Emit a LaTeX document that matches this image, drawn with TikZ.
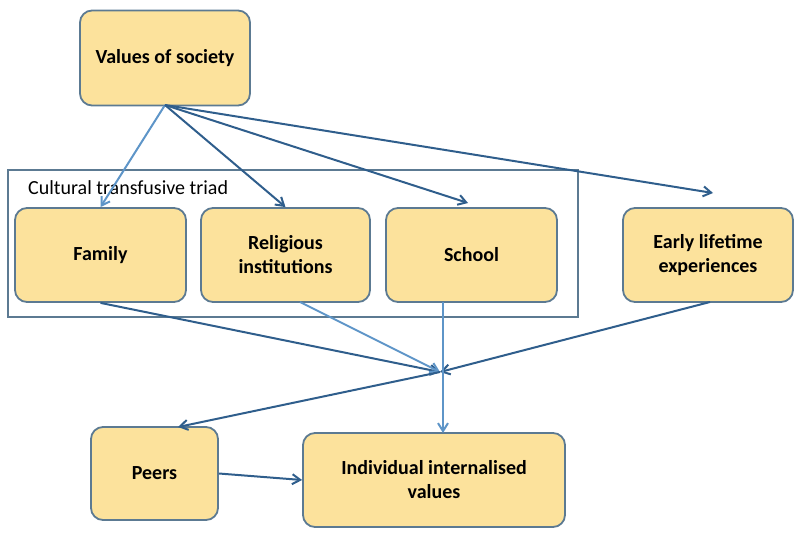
\documentclass[tikz,border=0pt]{standalone}
\usepackage{fontspec}
\setmainfont{Carlito}
\usetikzlibrary{arrows.meta}
\begin{document}
\begin{tikzpicture}[x=1pt,y=-1pt,
 box/.style={draw=boxline,fill=boxfill,line width=1.8pt,rounded corners=12pt,align=center,font=\bfseries\fontsize{20}{24}\selectfont,inner sep=0pt},
 dk/.style={draw=darkarr,line width=2pt,-{Straight Barb[length=8pt,width=10pt]}},
 lt/.style={draw=lightarr,line width=2pt,-{Straight Barb[length=8pt,width=10pt]}}]
\definecolor{boxfill}{HTML}{FCE29C}
\definecolor{boxline}{HTML}{5C7A92}
\definecolor{darkarr}{HTML}{2F5E8C}
\definecolor{lightarr}{HTML}{5E95C8}
\useasboundingbox (0,0) rectangle (802,537);
\node[box,minimum width=170pt,minimum height=95pt] (vs) at (165,58) {Values of society};
\node[draw=boxline,line width=1.8pt,minimum width=570pt,minimum height=147pt,inner sep=0pt] (triad) at (293,243.5) {};
\node[anchor=west,font=\fontsize{20}{24}\selectfont,inner sep=0pt] (tl) at (28,188) {Cultural transfusive triad};
\node[box,minimum width=171pt,minimum height=94pt] (fam) at (100.5,255) {Family};
\node[box,minimum width=169pt,minimum height=94pt] (rel) at (285.5,255) {Religious\\institutions};
\node[box,minimum width=171pt,minimum height=94pt] (sch) at (471.5,255) {School};
\node[box,minimum width=170pt,minimum height=94pt] (ear) at (708,255) {Early lifetime\\experiences};
\node[box,minimum width=127pt,minimum height=93pt] (peer) at (154.5,473.5) {Peers};
\node[box,minimum width=262pt,minimum height=94pt] (ind) at (434,480) {Individual internalised\\values};
\coordinate (vb) at (165,105);
\coordinate (j) at (440,372);
\draw[lt] (vb) -- (fam.north);
\draw[dk] (vb) -- (rel.north);
\draw[dk] (vb) -- (468,203);
\draw[dk] (vb) -- (713,193);
\draw[dk] (fam.south) -- (j);
\draw[lt] (300,302) -- (j);
\draw[dk] (710,302) -- (j);
\draw[lt] (443,302) -- (443,433);
\draw[dk] (j) -- (178,427);
\draw[dk] (peer.east) -- (ind.west);
\end{tikzpicture}
\end{document}
